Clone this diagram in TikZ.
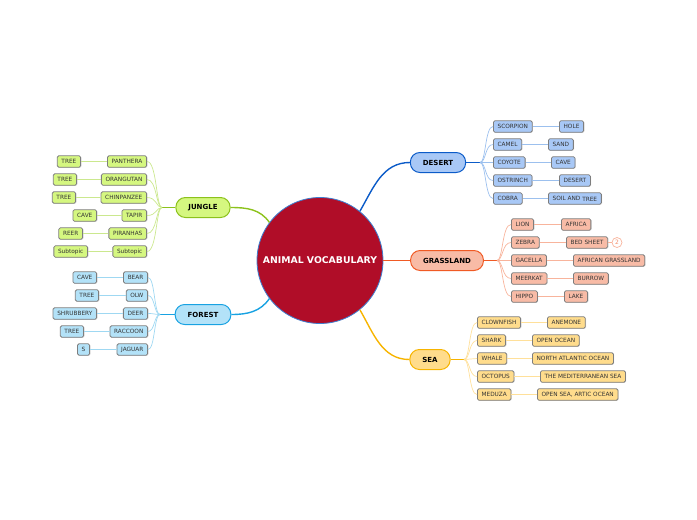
\documentclass[tikz,border=0pt]{standalone}
\usepackage{fontspec}
\setmainfont{DejaVu Sans}
\usetikzlibrary{shadows}

\definecolor{centerred}{HTML}{B00D28}
\definecolor{centerblue}{HTML}{3F7FD0}
\definecolor{desertfill}{HTML}{A8C8F6}
\definecolor{desertline}{HTML}{0B5BC8}
\definecolor{desertlight}{HTML}{9CC0EE}
\definecolor{grassfill}{HTML}{F8BBA6}
\definecolor{grassline}{HTML}{F05A24}
\definecolor{grasslight}{HTML}{F8B49C}
\definecolor{seafill}{HTML}{FFDC8C}
\definecolor{sealine}{HTML}{F7B400}
\definecolor{sealight}{HTML}{FFE09A}
\definecolor{junglefill}{HTML}{D5F780}
\definecolor{jungleline}{HTML}{8CC21C}
\definecolor{junglelight}{HTML}{CBE88E}
\definecolor{forestfill}{HTML}{B3E2F8}
\definecolor{forestline}{HTML}{18A2E2}
\definecolor{forestlight}{HTML}{9FD8F2}
\definecolor{leafborder}{HTML}{7E7E7E}
\definecolor{leaftext}{HTML}{333333}

\tikzset{
  topicbox/.style={draw, line width=1pt, rounded corners=9.5pt, minimum height=20pt,
    inner xsep=12.5pt, inner ysep=0pt, font=\bfseries\fontsize{7}{8}\selectfont},
  leaf/.style={draw=leafborder, fill=#1, line width=0.8pt, rounded corners=1.5pt,
    minimum height=11.5pt, inner xsep=4.2pt, inner ysep=0pt, text=leaftext,
    font=\fontsize{5.8}{6.5}\selectfont,
    drop shadow={shadow xshift=0.7pt, shadow yshift=-0.7pt, opacity=0.25}},
  mainline/.style={line width=1.4pt},
  twig/.style={line width=0.7pt}
}

\begin{document}
\begin{tikzpicture}[x=1pt,y=-1pt]
    \useasboundingbox (0,0) rectangle (697,520);

    % centre
    \node[circle, fill=centerred, draw=centerblue, line width=0.8pt, minimum size=126pt,
      text=white, font=\bfseries\fontsize{9.3}{10}\selectfont] (animal) at (320,260.5) {ANIMAL VOCABULARY};

    % main topics
    \node[topicbox, fill=desertfill, draw=desertline] (desert) at (438,162.5) {DESERT};
    \node[topicbox, fill=grassfill, draw=grassline] (grassland) at (447,260.5) {GRASSLAND};
    \node[topicbox, fill=seafill, draw=sealine] (sea) at (430,359.5) {SEA};
    \node[topicbox, fill=junglefill, draw=jungleline] (jungle) at (203,207.5) {JUNGLE};
    \node[topicbox, fill=forestfill, draw=forestline] (forest) at (203,314.5) {FOREST};

    \draw[mainline, desertline] (animal.51) to[out=60,in=180] (desert.west);
    \draw[mainline, grassline] (animal.east) -- (grassland.west);
    \draw[mainline, sealine] (animal.-51) to[out=-60,in=180] (sea.west);
    \draw[mainline, jungleline] (animal.143) to[out=125,in=0] (jungle.east);
    \draw[mainline, forestline] (animal.-143) to[out=-125,in=0] (forest.east);

    % desert
    \node[leaf=desertfill, anchor=west] (scorpion) at (493,126.5) {SCORPION};
    \node[leaf=desertfill, anchor=west] (camel) at (493,144.5) {CAMEL};
    \node[leaf=desertfill, anchor=west] (coyote) at (493,162.5) {COYOTE};
    \node[leaf=desertfill, anchor=west] (ostrinch) at (493,180.5) {OSTRINCH};
    \node[leaf=desertfill, anchor=west] (cobra) at (493,198.5) {COBRA};
    \node[leaf=desertfill, anchor=west] (hole) at (559,126.5) {HOLE};
    \node[leaf=desertfill, anchor=west] (sand) at (548,144.5) {SAND};
    \node[leaf=desertfill, anchor=west] (dcave) at (551,162.5) {CAVE};
    \node[leaf=desertfill, anchor=west] (ddesert) at (559,180.5) {DESERT};
    \node[leaf=desertfill, anchor=west] (soiltree) at (548,198.5) {SOIL AND \raisebox{-0.8pt}{TREE}};
    \coordinate (dfork) at (480,162.5);
    \draw[mainline, desertline] (desert.east) -- (dfork);
    \draw[twig, desertlight] (dfork) .. controls (486,162.5) and (485,126.5) .. (scorpion.west);
    \draw[twig, desertlight] (dfork) .. controls (486,162.5) and (485,144.5) .. (camel.west);
    \draw[twig, desertlight] (dfork) -- (coyote.west);
    \draw[twig, desertlight] (dfork) .. controls (486,162.5) and (485,180.5) .. (ostrinch.west);
    \draw[twig, desertlight] (dfork) .. controls (486,162.5) and (485,198.5) .. (cobra.west);
    \draw[twig, desertlight] (scorpion) -- (hole);
    \draw[twig, desertlight] (camel) -- (sand);
    \draw[twig, desertlight] (coyote) -- (dcave);
    \draw[twig, desertlight] (ostrinch) -- (ddesert);
    \draw[twig, desertlight] (cobra) -- (soiltree);

    % grassland
    \node[leaf=grassfill, anchor=west] (lion) at (511,224.5) {LION};
    \node[leaf=grassfill, anchor=west] (zebra) at (511,242.5) {ZEBRA};
    \node[leaf=grassfill, anchor=west] (gacella) at (511,260.5) {GACELLA};
    \node[leaf=grassfill, anchor=west] (meerkat) at (511,278.5) {MEERKAT};
    \node[leaf=grassfill, anchor=west] (hippo) at (511,296.5) {HIPPO};
    \node[leaf=grassfill, anchor=west] (africa) at (561,224.5) {AFRICA};
    \node[leaf=grassfill, anchor=west] (bedsheet) at (566,242.5) {BED SHEET};
    \node[leaf=grassfill, anchor=west] (africangrass) at (573,260.5) {AFRICAN GRASSLAND};
    \node[leaf=grassfill, anchor=west] (burrow) at (573,278.5) {BURROW};
    \node[leaf=grassfill, anchor=west] (lake) at (564,296.5) {LAKE};
    \node[circle, draw=grasslight, fill=white, line width=0.7pt, minimum size=10pt, inner sep=0pt,
      text=grassline!70, font=\fontsize{6}{6.5}\selectfont] (badge) at (617,242.5) {2};
    \coordinate (gfork) at (497,260.5);
    \draw[mainline, grassline] (grassland.east) -- (gfork);
    \draw[twig, grasslight] (gfork) .. controls (503,260.5) and (502,224.5) .. (lion.west);
    \draw[twig, grasslight] (gfork) .. controls (503,260.5) and (502,242.5) .. (zebra.west);
    \draw[twig, grasslight] (gfork) -- (gacella.west);
    \draw[twig, grasslight] (gfork) .. controls (503,260.5) and (502,278.5) .. (meerkat.west);
    \draw[twig, grasslight] (gfork) .. controls (503,260.5) and (502,296.5) .. (hippo.west);
    \draw[twig, grasslight] (lion) -- (africa);
    \draw[twig, grasslight] (zebra) -- (bedsheet);
    \draw[twig, grasslight] (gacella) -- (africangrass);
    \draw[twig, grasslight] (meerkat) -- (burrow);
    \draw[twig, grasslight] (hippo) -- (lake);
    \draw[twig, grasslight] (bedsheet) -- (badge);

    % sea
    \node[leaf=seafill, anchor=west] (clownfish) at (477,322.5) {CLOWNFISH};
    \node[leaf=seafill, anchor=west] (shark) at (477,340.5) {SHARK};
    \node[leaf=seafill, anchor=west] (whale) at (477,358.5) {WHALE};
    \node[leaf=seafill, anchor=west] (octopus) at (477,376.5) {OCTOPUS};
    \node[leaf=seafill, anchor=west] (meduza) at (477,394.5) {MEDUZA};
    \node[leaf=seafill, anchor=west] (anemone) at (547,322.5) {ANEMONE};
    \node[leaf=seafill, anchor=west] (openocean) at (532,340.5) {OPEN OCEAN};
    \node[leaf=seafill, anchor=west] (northatlantic) at (532,358.5) {NORTH ATLANTIC OCEAN};
    \node[leaf=seafill, anchor=west] (mediterranean) at (540,376.5) {THE MEDITERRANEAN SEA};
    \node[leaf=seafill, anchor=west] (articocean) at (537,394.5) {OPEN SEA, ARTIC OCEAN};
    \coordinate (sfork) at (464,359.5);
    \draw[mainline, sealine] (sea.east) -- (sfork);
    \draw[twig, sealight] (sfork) .. controls (470,359.5) and (469,322.5) .. (clownfish.west);
    \draw[twig, sealight] (sfork) .. controls (470,359.5) and (469,340.5) .. (shark.west);
    \draw[twig, sealight] (sfork) -- (whale.west);
    \draw[twig, sealight] (sfork) .. controls (470,359.5) and (469,376.5) .. (octopus.west);
    \draw[twig, sealight] (sfork) .. controls (470,359.5) and (469,394.5) .. (meduza.west);
    \draw[twig, sealight] (clownfish) -- (anemone);
    \draw[twig, sealight] (shark) -- (openocean);
    \draw[twig, sealight] (whale) -- (northatlantic);
    \draw[twig, sealight] (octopus) -- (mediterranean);
    \draw[twig, sealight] (meduza) -- (articocean);

    % jungle
    \node[leaf=junglefill, anchor=east] (panthera) at (147,161.5) {PANTHERA};
    \node[leaf=junglefill, anchor=east] (orangutan) at (147,179.5) {ORANGUTAN};
    \node[leaf=junglefill, anchor=east] (chinpanzee) at (147,197.5) {CHINPANZEE};
    \node[leaf=junglefill, anchor=east] (tapir) at (147,215.5) {TAPIR};
    \node[leaf=junglefill, anchor=east] (piranhas) at (147,233.5) {PIRANHAS};
    \node[leaf=junglefill, anchor=east] (jsubtopic) at (147,251.5) {Subtopic};
    \node[leaf=junglefill, anchor=east] (jtreea) at (81,161.5) {TREE};
    \node[leaf=junglefill, anchor=east] (jtreeb) at (77,179.5) {TREE};
    \node[leaf=junglefill, anchor=east] (jtreec) at (76,197.5) {TREE};
    \node[leaf=junglefill, anchor=east] (jcave) at (97,215.5) {CAVE};
    \node[leaf=junglefill, anchor=east] (reer) at (83,233.5) {REER};
    \node[leaf=junglefill, anchor=east] (jsubsub) at (88,251.5) {Subtopic};
    \coordinate (jfork) at (162,207.5);
    \draw[mainline, jungleline] (jungle.west) -- (jfork);
    \draw[twig, junglelight] (jfork) .. controls (156,207.5) and (157,161.5) .. (panthera.east);
    \draw[twig, junglelight] (jfork) .. controls (156,207.5) and (157,179.5) .. (orangutan.east);
    \draw[twig, junglelight] (jfork) .. controls (156,207.5) and (157,197.5) .. (chinpanzee.east);
    \draw[twig, junglelight] (jfork) .. controls (156,207.5) and (157,215.5) .. (tapir.east);
    \draw[twig, junglelight] (jfork) .. controls (156,207.5) and (157,233.5) .. (piranhas.east);
    \draw[twig, junglelight] (jfork) .. controls (156,207.5) and (157,251.5) .. (jsubtopic.east);
    \draw[twig, junglelight] (panthera) -- (jtreea);
    \draw[twig, junglelight] (orangutan) -- (jtreeb);
    \draw[twig, junglelight] (chinpanzee) -- (jtreec);
    \draw[twig, junglelight] (tapir) -- (jcave);
    \draw[twig, junglelight] (piranhas) -- (reer);
    \draw[twig, junglelight] (jsubtopic) -- (jsubsub);

    % forest
    \node[leaf=forestfill, anchor=east] (bear) at (148,277.5) {BEAR};
    \node[leaf=forestfill, anchor=east] (olw) at (148,295.5) {OLW};
    \node[leaf=forestfill, anchor=east] (deer) at (148,313.5) {DEER};
    \node[leaf=forestfill, anchor=east] (raccoon) at (148,331.5) {RACCOON};
    \node[leaf=forestfill, anchor=east] (jaguar) at (148,349.5) {JAGUAR};
    \node[leaf=forestfill, anchor=east] (fcave) at (97,277.5) {CAVE};
    \node[leaf=forestfill, anchor=east] (ftreea) at (99,295.5) {TREE};
    \node[leaf=forestfill, anchor=east] (shrubbery) at (97,313.5) {SHRUBBERY};
    \node[leaf=forestfill, anchor=east] (ftreeb) at (84,331.5) {TREE};
    \node[leaf=forestfill, anchor=east] (fs) at (90,349.5) {S};
    \coordinate (ffork) at (160,314.5);
    \draw[mainline, forestline] (forest.west) -- (ffork);
    \draw[twig, forestlight] (ffork) .. controls (154,314.5) and (155,277.5) .. (bear.east);
    \draw[twig, forestlight] (ffork) .. controls (154,314.5) and (155,295.5) .. (olw.east);
    \draw[twig, forestlight] (ffork) .. controls (154,314.5) and (155,313.5) .. (deer.east);
    \draw[twig, forestlight] (ffork) .. controls (154,314.5) and (155,331.5) .. (raccoon.east);
    \draw[twig, forestlight] (ffork) .. controls (154,314.5) and (155,349.5) .. (jaguar.east);
    \draw[twig, forestlight] (bear) -- (fcave);
    \draw[twig, forestlight] (olw) -- (ftreea);
    \draw[twig, forestlight] (deer) -- (shrubbery);
    \draw[twig, forestlight] (raccoon) -- (ftreeb);
    \draw[twig, forestlight] (jaguar) -- (fs);
  \end{tikzpicture}
\end{document}
